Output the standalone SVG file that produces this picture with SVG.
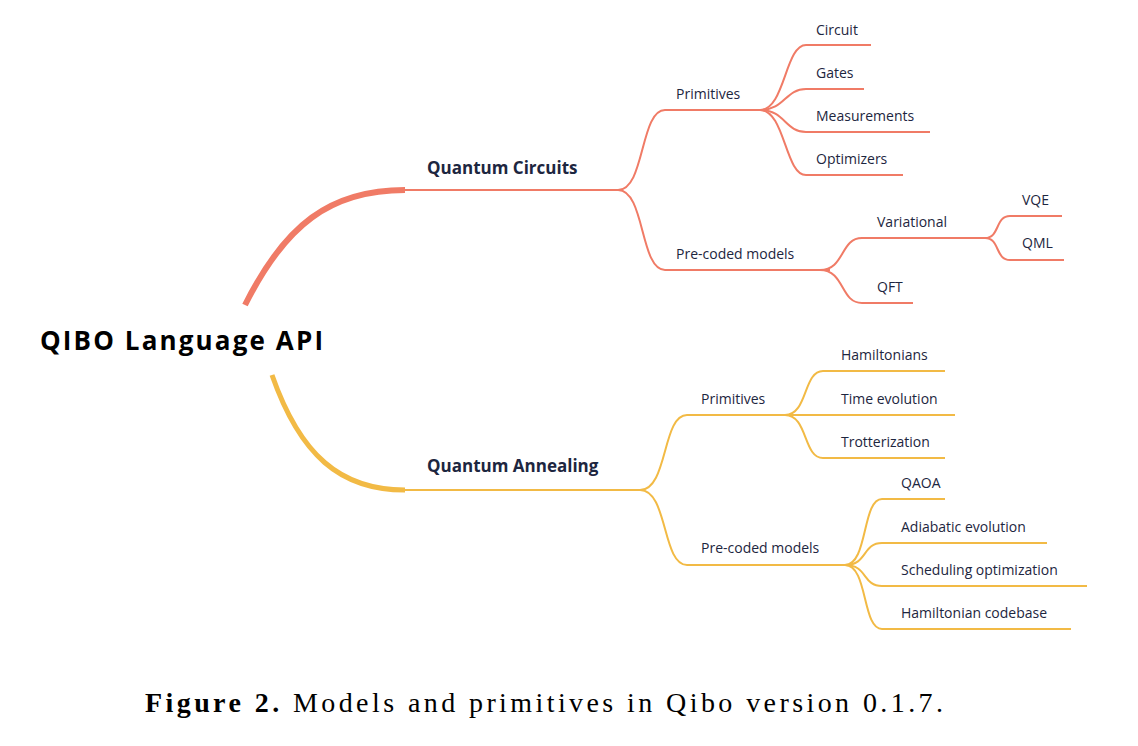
<svg xmlns="http://www.w3.org/2000/svg" width="1138" height="746" viewBox="0 0 1138 746">
<style>
.r{fill:none;stroke:#F07B66;stroke-width:2}
.y{fill:none;stroke:#F2BA45;stroke-width:2}
.t{font-family:"Open Sans",sans-serif;font-size:14px;fill:#1d2640}
.b{font-family:"Open Sans",sans-serif;font-size:17px;font-weight:bold;fill:#1d2640}
</style>
<rect width="1138" height="746" fill="#fff"/>
<g id="connectors">
<path d="M245 305 C285 225 330 190 405 190" fill="none" stroke="#F07B66" stroke-width="6"/>
<path d="M272 375 C300 455 340 490 405 490" fill="none" stroke="#F2BA45" stroke-width="5"/>
<path class="r" d="M405 190 H618 C645 190 640 110 665 110 H760"/>
<path class="r" d="M618 190 C645 190 640 270 665 270 H830"/>
<path class="r" d="M760 110 C785 110 785 45 806 45 H871"/>
<path class="r" d="M760 110 C785 110 785 89 806 89 H864"/>
<path class="r" d="M760 110 C785 110 785 132 806 132 H930"/>
<path class="r" d="M760 110 C785 110 785 175 806 175 H903"/>
<path class="r" d="M820 270 C845 270 840 238 862 238 H985"/>
<path class="r" d="M820 270 C845 270 840 303 862 303 H913"/>
<path class="r" d="M985 238 C1000 238 995 216 1010 216 H1062"/>
<path class="r" d="M985 238 C1000 238 995 260 1010 260 H1064"/>
<path class="y" d="M405 490 H640 C668 490 662 415 687 415 H785"/>
<path class="y" d="M640 490 C668 490 662 565 687 565 H845"/>
<path class="y" d="M785 415 C808 415 803 371 823 371 H945"/>
<path class="y" d="M785 415 H955"/>
<path class="y" d="M785 415 C808 415 803 458 823 458 H945"/>
<path class="y" d="M845 565 C868 565 862 499 882 499 H945"/>
<path class="y" d="M845 565 C868 565 862 543 882 543 H1047"/>
<path class="y" d="M845 565 C868 565 862 586 882 586 H1087"/>
<path class="y" d="M845 565 C868 565 862 629 882 629 H1071"/>
</g>
<g id="root"><text x="40" y="350" font-family="'Open Sans',sans-serif" font-size="26" font-weight="bold" fill="#000" textLength="283">QIBO Language API</text></g>
<g id="qc"><text class="b" x="427" y="174">Quantum Circuits</text></g>
<g id="qc-prim"><text class="t" x="676" y="99">Primitives</text></g>
<g id="circuit"><text class="t" x="816" y="35">Circuit</text></g>
<g id="gates"><text class="t" x="816" y="78">Gates</text></g>
<g id="meas"><text class="t" x="816" y="121">Measurements</text></g>
<g id="opt"><text class="t" x="816" y="164">Optimizers</text></g>
<g id="qc-pre"><text class="t" x="676" y="259">Pre-coded models</text></g>
<g id="var"><text class="t" x="877" y="227">Variational</text></g>
<g id="vqe"><text class="t" x="1022" y="205">VQE</text></g>
<g id="qml"><text class="t" x="1022" y="248">QML</text></g>
<g id="qft"><text class="t" x="877" y="292">QFT</text></g>
<g id="qa"><text class="b" x="427" y="472">Quantum Annealing</text></g>
<g id="qa-prim"><text class="t" x="701" y="404">Primitives</text></g>
<g id="ham"><text class="t" x="841" y="360">Hamiltonians</text></g>
<g id="time"><text class="t" x="841" y="404">Time evolution</text></g>
<g id="trot"><text class="t" x="841" y="447">Trotterization</text></g>
<g id="qa-pre"><text class="t" x="701" y="553">Pre-coded models</text></g>
<g id="qaoa"><text class="t" x="901" y="488">QAOA</text></g>
<g id="adia"><text class="t" x="901" y="532">Adiabatic evolution</text></g>
<g id="sched"><text class="t" x="901" y="575">Scheduling optimization</text></g>
<g id="hcb"><text class="t" x="901" y="618">Hamiltonian codebase</text></g>
<text x="145" y="712" font-family="'Liberation Serif',serif" font-size="28" fill="#000" textLength="798"><tspan font-weight="bold">Figure 2.</tspan> Models and primitives in Qibo version 0.1.7.</text>
</svg>
